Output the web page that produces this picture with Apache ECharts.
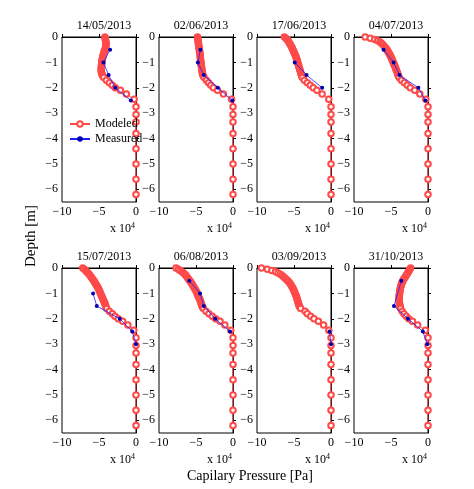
<!DOCTYPE html>
<html>
<head>
<meta charset="utf-8">
<script src="https://cdn.jsdelivr.net/npm/echarts@6/dist/echarts.min.js"></script>
<style>
html, body { margin: 0; padding: 0; background: #fff; }
#chart { width: 474px; height: 489px; }
</style>
</head>
<body>
<div id="chart"></div>
<script>
// dates of the profiles
const dates = ['14/05/2013', '02/06/2013', '17/06/2013', '04/07/2013',
               '15/07/2013', '06/08/2013', '03/09/2013', '31/10/2013'];

// model node depths [m]
const modelDepth = [0, -0.05, -0.1, -0.15, -0.2, -0.25, -0.3, -0.35, -0.4, -0.45, -0.5, -0.55,
  -0.6, -0.65, -0.7, -0.75, -0.8, -0.85, -0.9, -0.95, -1, -1.05, -1.1, -1.15, -1.2, -1.25,
  -1.3, -1.35, -1.4, -1.45, -1.5, -1.55, -1.6, -1.7, -1.8, -1.9, -2, -2.1, -2.25, -2.45,
  -2.75, -3.05, -3.35, -3.8, -4.4, -5, -5.6, -6.2];

// modeled capillary pressure (x 10^4 Pa), one value per node
const model_140513 = [-4.2, -4.17, -4.14, -4.1, -4.07, -4.05, -4.05, -4.07, -4.1, -4.15, -4.2, -4.26,
  -4.32, -4.37, -4.42, -4.46, -4.5, -4.54, -4.57, -4.6, -4.62, -4.64, -4.66, -4.68, -4.69, -4.7,
  -4.7, -4.69, -4.67, -4.62, -4.56, -4.47, -4.35, -4.0, -3.6, -3.2, -2.8, -2.1, -1.3, -0.25,
  0, 0, 0, 0, 0, 0, 0, 0];
const model_020613 = [-4.8, -4.77, -4.75, -4.72, -4.7, -4.67, -4.65, -4.62, -4.6, -4.57, -4.55, -4.52,
  -4.5, -4.47, -4.45, -4.43, -4.42, -4.4, -4.38, -4.36, -4.35, -4.32, -4.3, -4.27, -4.25, -4.22,
  -4.2, -4.17, -4.15, -4.12, -4.08, -4.0, -3.9, -3.6, -3.3, -3.0, -2.65, -2.1, -1.3, -0.2,
  0, 0, 0, 0, 0, 0, 0, 0];
const model_170613 = [-6.3, -6.1, -5.95, -5.8, -5.7, -5.6, -5.5, -5.4, -5.3, -5.22, -5.15, -5.07,
  -5.0, -4.92, -4.85, -4.78, -4.72, -4.66, -4.6, -4.55, -4.5, -4.45, -4.4, -4.35, -4.3, -4.25,
  -4.2, -4.15, -4.1, -4.05, -4.0, -3.95, -3.88, -3.6, -3.2, -2.8, -2.4, -1.9, -1.2, -0.3,
  0, 0, 0, 0, 0, 0, 0, 0];
const model_040713 = [-8.5, -7.8, -7.2, -6.8, -6.5, -6.3, -6.1, -5.95, -5.8, -5.67, -5.55, -5.45,
  -5.35, -5.25, -5.15, -5.07, -5.0, -4.92, -4.85, -4.77, -4.7, -4.62, -4.55, -4.47, -4.4, -4.35,
  -4.3, -4.22, -4.15, -4.1, -4.05, -3.98, -3.9, -3.6, -3.2, -2.8, -2.4, -1.8, -1.1, -0.3,
  0, 0, 0, 0, 0, 0, 0, 0];
const model_150713 = [-7.2, -7.0, -6.8, -6.65, -6.5, -6.35, -6.2, -6.07, -5.95, -5.82, -5.7, -5.6,
  -5.5, -5.4, -5.3, -5.2, -5.1, -5.02, -4.95, -4.87, -4.8, -4.72, -4.65, -4.57, -4.5, -4.42,
  -4.35, -4.27, -4.2, -4.15, -4.1, -4.03, -3.95, -3.6, -3.2, -2.85, -2.4, -1.8, -1.1, -0.3,
  0, 0, 0, 0, 0, 0, 0, 0];
const model_060813 = [-7.7, -7.4, -7.15, -6.9, -6.7, -6.5, -6.35, -6.22, -6.1, -5.97, -5.85, -5.72,
  -5.6, -5.5, -5.4, -5.3, -5.2, -5.1, -5.0, -4.92, -4.85, -4.77, -4.7, -4.62, -4.55, -4.47,
  -4.4, -4.35, -4.3, -4.25, -4.2, -4.1, -4.0, -3.65, -3.25, -2.8, -2.35, -1.75, -1.1, -0.3,
  0, 0, 0, 0, 0, 0, 0, 0];
const model_030913 = [-9.4, -8.6, -8.0, -7.5, -7.15, -6.85, -6.6, -6.4, -6.2, -6.02, -5.85, -5.7,
  -5.55, -5.45, -5.35, -5.25, -5.15, -5.07, -5.0, -4.92, -4.85, -4.77, -4.7, -4.65, -4.6, -4.55,
  -4.5, -4.45, -4.4, -4.35, -4.3, -4.2, -4.1, -3.5, -3.2, -2.75, -2.3, -1.7, -1.0, -0.3,
  0, 0, 0, 0, 0, 0, 0, 0];
const model_311013 = [-2.35, -2.45, -2.55, -2.65, -2.75, -2.85, -2.95, -3.07, -3.2, -3.3, -3.4, -3.47,
  -3.55, -3.6, -3.65, -3.7, -3.75, -3.77, -3.8, -3.82, -3.85, -3.87, -3.9, -3.9, -3.9, -3.9,
  -3.9, -3.88, -3.85, -3.82, -3.8, -3.75, -3.7, -3.5, -3.25, -2.95, -2.6, -2.1, -1.4, -0.35,
  0, 0, 0, 0, 0, 0, 0, 0];

// measured [pressure x 10^4 Pa, depth m]
const meas_140513 = [[-3.5, -0.5], [-4.4, -1], [-3.7, -1.5], [-2.8, -2], [-0.7, -2.5]];
const meas_020613 = [[-4.4, -0.5], [-4.75, -1], [-3.95, -1.5], [-2.05, -2], [-0.1, -2.5]];
const meas_170613 = [[-4.9, -1], [-3.3, -1.5], [-1.2, -2]];
const meas_040713 = [[-6.0, -0.5], [-4.65, -1], [-3.85, -1.5], [-1.3, -2], [-0.35, -2.5]];
const meas_150713 = [[-5.8, -1], [-5.3, -1.5], [-2.2, -2], [-0.5, -2.5], [0, -3]];
const meas_060813 = [[-5.9, -0.5], [-4.45, -1], [-3.95, -1.5], [-2.4, -2], [-0.4, -2.5]];
const meas_030913 = [[-0.2, -2.5], [0, -3]];
const meas_311013 = [[-3.6, -0.5], [-4.6, -1.5], [-2.7, -2], [-0.7, -2.5], [-0.1, -3]];

const xTicks = [-10, -5, 0];
const yTicks = [0, -1, -2, -3, -4, -5, -6];

const modeledAll = [model_140513, model_020613, model_170613, model_040713,
                    model_150713, model_060813, model_030913, model_311013];
const measuredAll = [meas_140513, meas_020613, meas_170613, meas_040713,
                     meas_150713, meas_060813, meas_030913, meas_311013];

const lefts = [62, 159, 257, 354];
const tops = [37, 268];
const W = 74, H = 165;
const font = 'Liberation Serif';
const red = '#ff4a4a';
const minus = v => String(v).replace('-', '\u2212');

const grid = [], xAxis = [], yAxis = [], series = [], title = [], graphic = [];

dates.forEach((d, i) => {
    const col = i % 4, row = Math.floor(i / 4);
    const left = lefts[col], top = tops[row];
    grid.push({ left: left, top: top, width: W, height: H, show: true,
        borderColor: '#000', borderWidth: 1, backgroundColor: '#fff' });
    xAxis.push({
        gridIndex: i, type: 'value', min: -10, max: 0,
        axisLine: { show: true, lineStyle: { color: '#000', width: 1 } },
        axisTick: { inside: true, length: 3, customValues: xTicks, lineStyle: { color: '#000' } },
        axisLabel: { customValues: xTicks, formatter: minus, color: '#000', fontFamily: font, fontSize: 12, margin: 4 },
        splitLine: { show: false }
    });
    yAxis.push({
        gridIndex: i, type: 'value', min: -6.5, max: 0,
        axisLine: { show: true, lineStyle: { color: '#000', width: 1 } },
        axisTick: { inside: true, length: 3, customValues: yTicks, lineStyle: { color: '#000' } },
        axisLabel: { customValues: yTicks, formatter: minus, color: '#000', fontFamily: font, fontSize: 12, margin: 4 },
        splitLine: { show: false }
    });
    title.push({
        text: d, left: left + W / 2, top: top - 22, textAlign: 'center',
        textStyle: { fontFamily: font, fontSize: 12, fontWeight: 'normal', color: '#000' }
    });
    graphic.push({
        type: 'text', x: left + W - 1, y: top + H + 27,
        style: { text: 'x 10{s|4}', align: 'right', verticalAlign: 'middle',
            font: '12px "Liberation Serif"', fill: '#000',
            rich: { s: { fontSize: 8, fontFamily: font, verticalAlign: 'top', padding: [0, 0, 6, 0] } } }
    });
    series.push({
        name: 'Modeled', type: 'line', xAxisIndex: i, yAxisIndex: i,
        data: modelDepth.map((z, k) => [modeledAll[i][k], z]),
        symbol: 'emptyCircle', symbolSize: 5.5, clip: false,
        lineStyle: { color: red, width: 0.8 },
        itemStyle: { color: red, borderColor: red, borderWidth: 0.6 },
        z: 2
    });
    series.push({
        name: 'Measured', type: 'line', xAxisIndex: i, yAxisIndex: i,
        data: measuredAll[i],
        symbol: 'circle', symbolSize: 4, clip: false,
        lineStyle: { color: '#2020ff', width: 0.8 },
        itemStyle: { color: '#0000b0' },
        z: 3
    });
});

graphic.push({
    type: 'text', x: 31, y: 236, rotation: Math.PI / 2,
    style: { text: 'Depth [m]', align: 'center', verticalAlign: 'middle',
        font: '15px "Liberation Serif"', fill: '#000' }
});
graphic.push({
    type: 'text', x: 250, y: 476,
    style: { text: 'Capilary Pressure [Pa]', align: 'center', verticalAlign: 'middle',
        font: '14px "Liberation Serif"', fill: '#000' }
});

const option = {
    animation: false,
    backgroundColor: '#fff',
    title: title,
    grid: grid,
    xAxis: xAxis,
    yAxis: yAxis,
    legend: {
        data: ['Modeled', 'Measured'], orient: 'vertical', left: 64, top: 113,
        itemWidth: 20, itemHeight: 7, itemGap: 3,
        textStyle: { fontFamily: font, fontSize: 12, color: '#000' },
        selectedMode: false
    },
    graphic: graphic,
    series: series
};

const myChart = echarts.init(document.getElementById('chart'));
myChart.setOption(option);
</script>
</body>
</html>
